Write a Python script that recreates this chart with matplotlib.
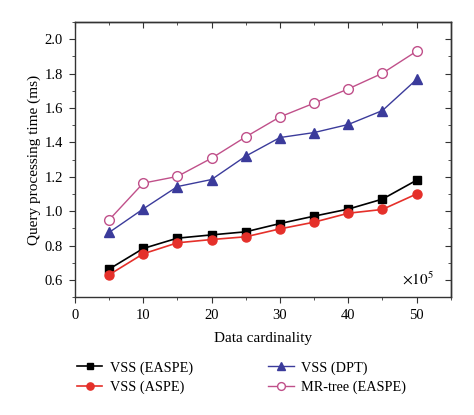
import matplotlib
matplotlib.use("Agg")
import matplotlib.pyplot as plt
from matplotlib.ticker import MultipleLocator

plt.rcParams['font.family'] = ['Liberation Serif', 'DejaVu Serif']
plt.rcParams['mathtext.fontset'] = 'stix'

x = [5, 10, 15, 20, 25, 30, 35, 40, 45, 50]
vss_easpe = [0.663, 0.783, 0.843, 0.862, 0.880, 0.928, 0.971, 1.012, 1.070, 1.180]
vss_aspe = [0.630, 0.752, 0.816, 0.835, 0.851, 0.897, 0.936, 0.988, 1.010, 1.100]
vss_dpt = [0.876, 1.013, 1.143, 1.184, 1.320, 1.428, 1.457, 1.504, 1.585, 1.766]
mr_tree = [0.949, 1.163, 1.202, 1.308, 1.432, 1.548, 1.628, 1.711, 1.802, 1.930]

fig = plt.figure(figsize=(4.74, 4.15), dpi=100)
ax = fig.add_axes([0.158, 0.284, 0.793, 0.663])

l1, = ax.plot(x, vss_easpe, color='black', marker='s', ms=6, lw=1.2, label='VSS (EASPE)')
l2, = ax.plot(x, vss_aspe, color='#e5302a', marker='o', ms=6.5, lw=1.2, label='VSS (ASPE)')
l3, = ax.plot(x, vss_dpt, color='#3b3b9b', marker='^', ms=7, lw=1.0, label='VSS (DPT)')
l4, = ax.plot(x, mr_tree, color='#c0508a', marker='o', ms=7, mfc='white', mec='#c0508a', mew=1.0, lw=1.0, label='MR-tree (EASPE)')

ax.set_xlim(0, 55)
ax.set_ylim(0.5, 2.1)
ax.xaxis.set_major_locator(MultipleLocator(10))
ax.xaxis.set_minor_locator(MultipleLocator(5))
ax.yaxis.set_minor_locator(MultipleLocator(0.1))
ax.set_yticks([0.6, 0.8, 1.0, 1.2, 1.4, 1.6, 1.8, 2.0])
ax.yaxis.set_major_formatter(plt.FuncFormatter(lambda v, p: f"{v:.1f}"))
ax.tick_params(which='both', direction='out', top=False, right=False, labelsize=10.5, color='#333333')
ax.tick_params(which='major', length=4.5, pad=4)
ax.tick_params(which='minor', length=2.5)

# mirrored ticks on top/right pointing inward
axt = ax.secondary_xaxis('top')
axt.xaxis.set_major_locator(MultipleLocator(10))
axt.xaxis.set_minor_locator(MultipleLocator(5))
axt.tick_params(which='both', direction='in', labeltop=False, color='#333333')
axt.tick_params(which='major', length=4.5)
axt.tick_params(which='minor', length=2.5)
axr = ax.secondary_yaxis('right')
axr.yaxis.set_major_locator(MultipleLocator(0.2))
axr.yaxis.set_minor_locator(MultipleLocator(0.1))
axr.tick_params(which='both', direction='in', labelright=False, color='#333333')
axr.tick_params(which='major', length=4.5)
axr.tick_params(which='minor', length=2.5)
for a in (ax, axt, axr):
    for s in a.spines.values():
        s.set_color('#333333')
        s.set_linewidth(1.0)

ax.set_xlabel('Data cardinality', fontsize=11, labelpad=7)
ax.set_ylabel('Query processing time (ms)', fontsize=11, labelpad=3)
ax.text(0.955, 0.035, r'$\times10^5$', transform=ax.transAxes, ha='right', va='bottom', fontsize=11)

fig.legend(handles=[l1, l2, l3, l4], ncol=2, frameon=False, fontsize=10.3,
           loc='upper left', bbox_to_anchor=(0.136, 0.161), columnspacing=5.3,
           handlelength=1.75, handletextpad=0.5, labelspacing=0.45, markerscale=0.8)

fig.savefig('out.png', dpi=100)
